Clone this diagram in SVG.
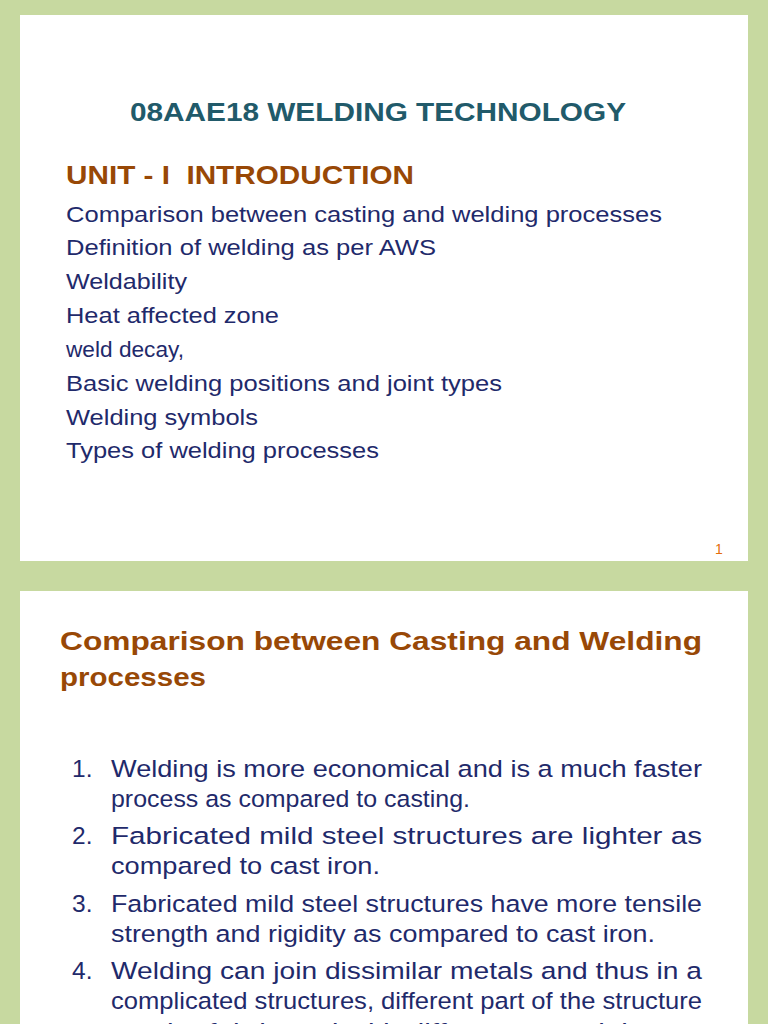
<svg xmlns="http://www.w3.org/2000/svg" width="768" height="1024" viewBox="0 0 768 1024">
<style>
.t{font-family:"Liberation Sans",Arial,sans-serif}
.t text{}
.ttl{font-size:26px;font-weight:bold;fill:#215a6a}
.h{font-size:26px;font-weight:bold;fill:#984806}
.li{font-size:22.5px;fill:#1f2a6b}
.n{font-size:24.5px;fill:#1f2a6b}
</style>
<rect width="768" height="1024" fill="#c7d9a0"/>
<rect x="20" y="15" width="728" height="546" fill="#fff"/>
<rect x="20" y="591" width="728" height="440" fill="#fff"/>
<g class="t">
<text class="ttl" x="130" y="121" textLength="496" lengthAdjust="spacingAndGlyphs">08AAE18 WELDING TECHNOLOGY</text>
<text class="h" x="66" y="184" textLength="348" lengthAdjust="spacingAndGlyphs" style="white-space:pre">UNIT - I  INTRODUCTION</text>
<text class="li" x="66" y="222" textLength="596" lengthAdjust="spacingAndGlyphs">Comparison between casting and welding processes</text>
<text class="li" x="66" y="255" textLength="370" lengthAdjust="spacingAndGlyphs">Definition of welding as per AWS</text>
<text class="li" x="66" y="289" textLength="121" lengthAdjust="spacingAndGlyphs">Weldability</text>
<text class="li" x="66" y="323" textLength="213" lengthAdjust="spacingAndGlyphs">Heat affected zone</text>
<text class="li" x="66" y="357" textLength="118" lengthAdjust="spacingAndGlyphs">weld decay,</text>
<text class="li" x="66" y="391" textLength="436" lengthAdjust="spacingAndGlyphs">Basic welding positions and joint types</text>
<text class="li" x="66" y="425" textLength="192" lengthAdjust="spacingAndGlyphs">Welding symbols</text>
<text class="li" x="66" y="458" textLength="313" lengthAdjust="spacingAndGlyphs">Types of welding processes</text>
<text x="715" y="554" font-size="14" fill="#e46c0a">1</text>
<text class="h" x="60" y="650" textLength="642" lengthAdjust="spacingAndGlyphs" style="white-space:pre">Comparison between Casting and Welding</text>
<text class="h" x="60" y="686" textLength="146" lengthAdjust="spacingAndGlyphs">processes</text>
<text class="n" x="72" y="777">1.</text>
<text class="n" x="111" y="777" textLength="591" lengthAdjust="spacingAndGlyphs">Welding is more economical and is a much faster</text>
<text class="n" x="111" y="807" textLength="359" lengthAdjust="spacingAndGlyphs">process as compared to casting.</text>
<text class="n" x="72" y="844">2.</text>
<text class="n" x="111" y="844" textLength="591" lengthAdjust="spacingAndGlyphs">Fabricated mild steel structures are lighter as</text>
<text class="n" x="111" y="874" textLength="269" lengthAdjust="spacingAndGlyphs">compared to cast iron.</text>
<text class="n" x="72" y="912">3.</text>
<text class="n" x="111" y="912" textLength="591" lengthAdjust="spacingAndGlyphs">Fabricated mild steel structures have more tensile</text>
<text class="n" x="111" y="942" textLength="544" lengthAdjust="spacingAndGlyphs">strength and rigidity as compared to cast iron.</text>
<text class="n" x="72" y="979">4.</text>
<text class="n" x="111" y="979" textLength="591" lengthAdjust="spacingAndGlyphs">Welding can join dissimilar metals and thus in a</text>
<text class="n" x="111" y="1009" textLength="591" lengthAdjust="spacingAndGlyphs">complicated structures, different part of the structure</text>
<text class="n" x="111" y="1040" textLength="540" lengthAdjust="spacingAndGlyphs">can be fabricated with different materials.</text>
</g>
</svg>
